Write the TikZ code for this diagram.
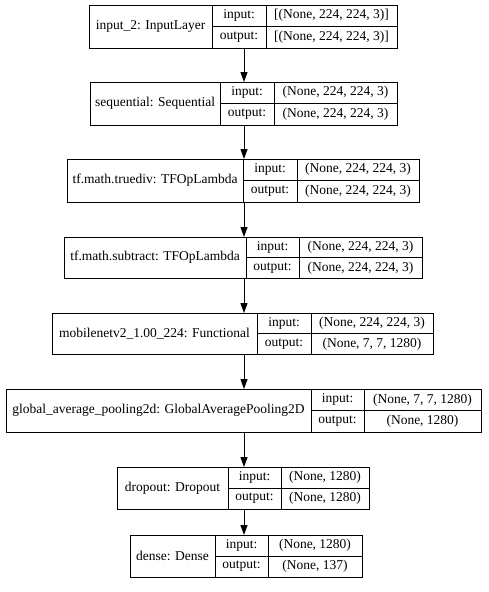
\documentclass[tikz,border=0pt]{standalone}
\usepackage{fontspec}
\setmainfont{Liberation Serif}
\usetikzlibrary{arrows.meta}
\tikzset{
  x=1pt, y=-1pt,
  frame/.style={draw=black, line width=1pt},
  txt/.style={inner sep=0pt, font=\fontsize{13.5}{14}\selectfont},
  arr/.style={draw=black, line width=1pt, -{Triangle[length=10pt,width=7pt]}},
}
% #1 name, #2 x1, #3 d1, #4 d2, #5 x2, #6 y1, #7 y2, #8 label, #9 input
\newcommand\recbox[9]{%
  \node[frame, inner sep=0pt, minimum width={#5-#2}, minimum height={#7-#6}, anchor=north west] (#1) at (#2,#6) {};
  \draw[frame] (#3,#6) -- (#3,#7) (#4,#6) -- (#4,#7) (#3,{(#6+#7)/2}) -- (#5,{(#6+#7)/2});
  \node[txt] (#1-l) at ({(#2+#3)/2},{(#6+#7)/2}) {#8};
  \node[txt] (#1-ik) at ({(#3+#4)/2},{(3*#6+#7)/4}) {input:};
  \node[txt] (#1-ok) at ({(#3+#4)/2},{(#6+3*#7)/4}) {output:};
  \node[txt] (#1-iv) at ({(#4+#5)/2},{(3*#6+#7)/4}) {#9};
  \coordinate (#1-o) at ({(#4+#5)/2},{(#6+3*#7)/4});
}
\newcommand\recout[2]{\node[txt] (#1-ov) at (#1-o) {#2};}
\begin{document}
\begin{tikzpicture}
\useasboundingbox[fill=white] (0,0) rectangle (489,592);
\recbox{b1}{89}{212}{266}{397}{5}{48}{input\_2: InputLayer}{[(None, 224, 224, 3)]}
\recout{b1}{[(None, 224, 224, 3)]}
\recbox{b2}{90}{220}{274}{397}{82}{125}{sequential: Sequential}{(None, 224, 224, 3)}
\recout{b2}{(None, 224, 224, 3)}
\recbox{b3}{67}{243}{297}{419}{159}{202}{tf.math.truediv: TFOpLambda}{(None, 224, 224, 3)}
\recout{b3}{(None, 224, 224, 3)}
\recbox{b4}{64}{246}{299}{422}{237}{278}{tf.math.subtract: TFOpLambda}{(None, 224, 224, 3)}
\recout{b4}{(None, 224, 224, 3)}
\recbox{b5}{52}{257}{311}{433}{313}{354}{mobilenetv2\_1.00\_224: Functional}{(None, 224, 224, 3)}
\recout{b5}{(None, 7, 7, 1280)}
\recbox{b6}{6}{311}{364}{481}{389}{432}{global\_average\_pooling2d: GlobalAveragePooling2D}{(None, 7, 7, 1280)}
\recout{b6}{(None, 1280)}
\recbox{b7}{117}{228}{281}{369}{467}{509}{dropout: Dropout}{(None, 1280)}
\recout{b7}{(None, 1280)}
\recbox{b8}{130}{215}{268}{362}{535}{577}{dense: Dense}{(None, 1280)}
\recout{b8}{(None, 137)}
\coordinate (ax) at (244,0);
\draw[arr] (b1.south -| ax) -- (b2.north -| ax);
\draw[arr] (b2.south -| ax) -- (b3.north -| ax);
\draw[arr] (b3.south -| ax) -- (b4.north -| ax);
\draw[arr] (b4.south -| ax) -- (b5.north -| ax);
\draw[arr] (b5.south -| ax) -- (b6.north -| ax);
\draw[arr] (b6.south -| ax) -- (b7.north -| ax);
\draw[arr] (b7.south -| ax) -- (b8.north -| ax);
\end{tikzpicture}
\end{document}
